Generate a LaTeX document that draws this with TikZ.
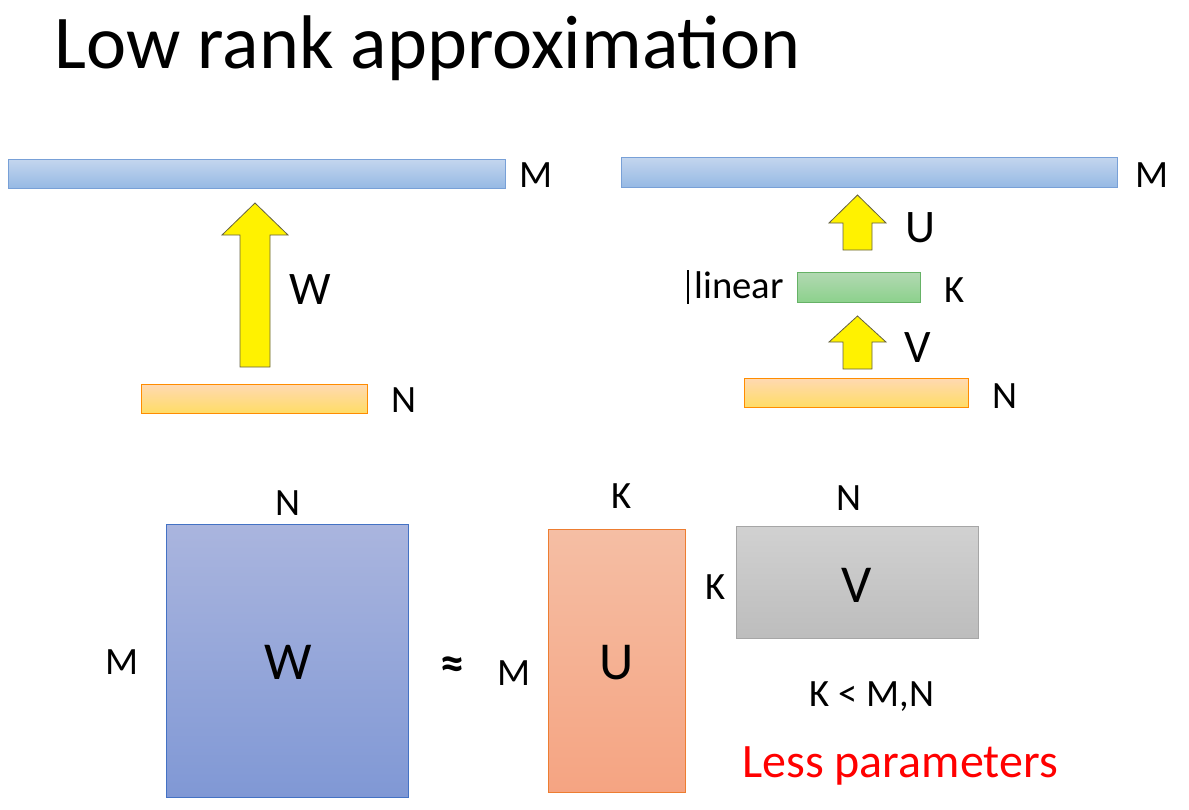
\documentclass[tikz,border=0pt]{standalone}
\usepackage{fontspec}
\setmainfont{Carlito}
\definecolor{bbT}{RGB}{196,214,238}
\definecolor{bbB}{RGB}{150,185,228}
\definecolor{bbD}{RGB}{120,160,215}
\definecolor{wT}{RGB}{170,181,222}
\definecolor{wB}{RGB}{128,152,213}
\definecolor{wD}{RGB}{68,114,196}
\definecolor{uT}{RGB}{245,190,164}
\definecolor{uB}{RGB}{245,164,130}
\definecolor{uD}{RGB}{237,125,49}
\begin{document}
\begin{tikzpicture}[x=0.75pt,y=-0.75pt,
 lab/.style={font=\fontsize{29}{31}\selectfont},
 big/.style={font=\fontsize{35}{37}\selectfont},
 mat/.style={font=\fontsize{40}{42}\selectfont},
 bluebar/.style={draw=bbD,top color=bbT,bottom color=bbB},
 orbar/.style={draw=orange!90!yellow,top color=orange!30,bottom color=orange!45!yellow!60},
 yarrow/.style={fill=yellow,draw=black!70!yellow,line width=0.6pt}]
\useasboundingbox (0,0) rectangle (1189,810);
\node[anchor=west,font=\fontsize{57}{60}\selectfont] (title) at (50,48) {Low rank approximation};
% left
\path[bluebar] (8,159) rectangle (505,188);
\node[lab] (m1) at (536,175) {M};
\path[yarrow] (240,367) -- (240,235) -- (222,235) -- (255,203) -- (288,235) -- (270,235) -- (270,367) -- cycle;
\node[big] (w1) at (310,290) {W};
\path[orbar] (141,384) rectangle (367,413);
\node[lab] (n1) at (404,400) {N};
% right
\path[bluebar] (621,157) rectangle (1117,187);
\node[lab] (m2) at (1152,175) {M};
\path[yarrow] (843,250) -- (843,223) -- (829,223) -- (857.5,195) -- (886,223) -- (872,223) -- (872,250) -- cycle;
\node[big] (u1) at (920,228) {U};
\path[draw=green!50!black!60,top color=green!50!black!30!white,bottom color=green!60!black!45!white] (797,272) rectangle (920,302);
\node[lab] (k1) at (955,290) {K};
\node[lab] (lin) at (739,285) {linear};
\draw[line width=0.8pt] (688,270) -- (688,304);
\path[yarrow] (843,369) -- (843,342) -- (829,342) -- (857.5,316) -- (886,342) -- (872,342) -- (872,369) -- cycle;
\node[big] (v1) at (918,348) {V};
\path[orbar] (744,378) rectangle (968,407);
\node[lab] (n2) at (1005,396) {N};
% matrices
\path[draw=wD,top color=wT,bottom color=wB] (166,524) rectangle (408,797);
\node[mat] (wm) at (288,662) {W};
\node[lab] (nw) at (288,503) {N};
\node[lab] (mw) at (122,662) {M};
\node[font=\fontsize{36}{38}\selectfont\bfseries] (approx) at (452,668) {≈};
\node[lab] (mu) at (514,673) {M};
\path[draw=uD,top color=uT,bottom color=uB] (548,529) rectangle (685,792);
\node[mat] (um) at (617,663) {U};
\node[lab] (ku) at (622,496) {K};
\path[draw=black!35,top color=black!18,bottom color=black!26] (736,526) rectangle (978,638);
\node[mat] (vm) at (857,585) {V};
\node[lab] (nv) at (849,498) {N};
\node[lab] (kv) at (716,587) {K};
\node[lab] (cond) at (872,697) {K < M,N};
\node[font=\fontsize{36}{38}\selectfont,text=red] (less) at (900,766) {Less parameters};
\end{tikzpicture}
\end{document}
